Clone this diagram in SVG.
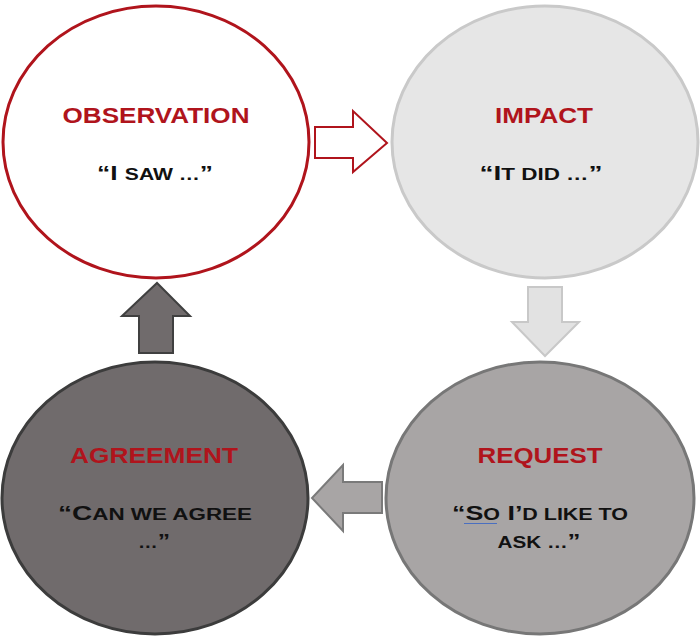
<svg xmlns="http://www.w3.org/2000/svg" width="700" height="639" viewBox="0 0 700 639">
<style>
.h{font-family:"Liberation Sans",Arial,sans-serif;font-weight:bold;font-size:22px;fill:#b0141c;text-anchor:middle}
.q{font-family:"Liberation Sans",Arial,sans-serif;font-weight:bold;font-size:20px;fill:#111;text-anchor:middle}
.s{font-size:16px}
</style>
<rect width="700" height="639" fill="#fff"/>
<g id="connectors" stroke-width="2" stroke-linejoin="miter">
<polygon id="arrow-obs-impact" points="315,127 353,127 353,111 387,143 353,172 353,158 315,158" fill="#fff" stroke="#b0141c"/>
<polygon id="arrow-impact-request" points="528,287 562,287 562,322 579,322 545,356 512,322 528,322" fill="#e2e2e2" stroke="#c8c8c8"/>
<polygon id="arrow-request-agreement" points="382,482 343,482 343,465 312,498 343,531 343,513 382,513" fill="#a8a5a5" stroke="#7a7a7a"/>
<polygon id="arrow-agreement-obs" points="139,353 139,316 122,316 157,283 190,316 173,316 173,353" fill="#706b6c" stroke="#404040"/>
</g>
<g id="observation">
<ellipse cx="156" cy="142" rx="153" ry="136" fill="#fff" stroke="#b0141c" stroke-width="3"/>
<text class="h" x="156" y="123" textLength="187" lengthAdjust="spacingAndGlyphs">OBSERVATION</text>
<text class="q" x="155" y="180" textLength="116" lengthAdjust="spacingAndGlyphs">“I <tspan class="s">SAW …</tspan>”</text>
</g>
<g id="impact">
<ellipse cx="545" cy="142" rx="153" ry="136" fill="#e6e6e6" stroke="#c9c9c9" stroke-width="3"/>
<text class="h" x="544" y="123" textLength="98" lengthAdjust="spacingAndGlyphs">IMPACT</text>
<text class="q" x="541" y="180" textLength="123" lengthAdjust="spacingAndGlyphs">“I<tspan class="s">T DID …</tspan>”</text>
</g>
<g id="request">
<ellipse cx="540" cy="498" rx="154" ry="136" fill="#a8a5a5" stroke="#777" stroke-width="3"/>
<text class="h" x="540" y="463" textLength="125" lengthAdjust="spacingAndGlyphs">REQUEST</text>
<text class="q" x="540" y="520" textLength="176" lengthAdjust="spacingAndGlyphs">“S<tspan class="s">O</tspan> I’<tspan class="s">D LIKE TO</tspan></text>
<line x1="464" y1="523.5" x2="497" y2="523.5" stroke="#4a6fc0" stroke-width="1.2"/>
<text class="q" x="539" y="548" textLength="83" lengthAdjust="spacingAndGlyphs"><tspan class="s">ASK …</tspan>”</text>
</g>
<g id="agreement">
<ellipse cx="155" cy="498" rx="153" ry="136" fill="#706b6c" stroke="#3c3c3c" stroke-width="3"/>
<text class="h" x="154" y="463" textLength="168" lengthAdjust="spacingAndGlyphs">AGREEMENT</text>
<text class="q" x="155" y="520" textLength="194" lengthAdjust="spacingAndGlyphs">“C<tspan class="s">AN WE AGREE</tspan></text>
<text class="q" x="154" y="548" textLength="32" lengthAdjust="spacingAndGlyphs"><tspan class="s">…</tspan>”</text>
</g>
</svg>
